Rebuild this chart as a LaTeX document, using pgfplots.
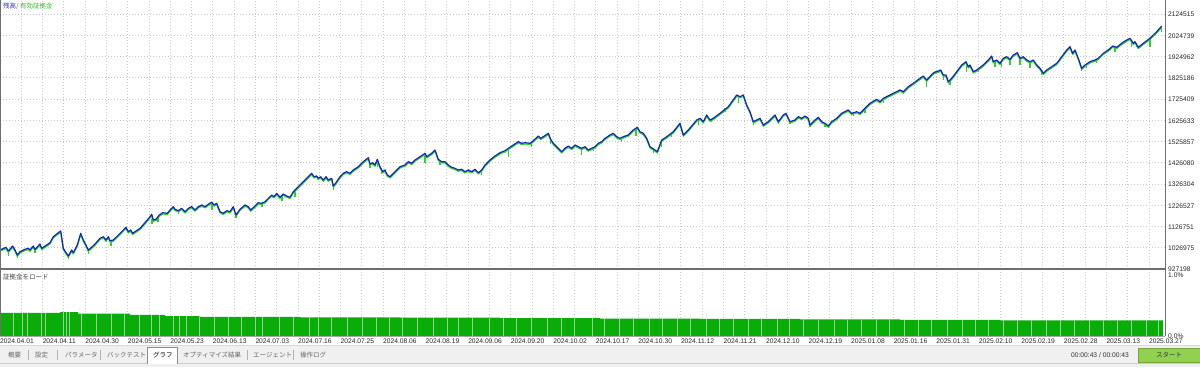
\documentclass[border=0pt]{standalone}
\usepackage{pgfplots}
\pgfplotsset{compat=1.18}
\usepackage{pgfplotstable}
\usepackage{fontspec}
\setmainfont{Liberation Sans}
\newfontfamily\jp{Noto Sans CJK JP}
\definecolor{balblue}{RGB}{22,38,185}
\definecolor{eqgreen}{RGB}{50,205,50}
\definecolor{bargreen}{RGB}{10,172,10}
\definecolor{gapgreen}{RGB}{140,215,140}
\definecolor{gridgray}{RGB}{200,200,200}
\definecolor{framegray}{RGB}{110,110,110}
\definecolor{tabgray}{RGB}{240,240,240}
\definecolor{btngreen}{RGB}{146,208,80}
\definecolor{lblblue}{RGB}{50,50,210}
\definecolor{lblgreen}{RGB}{40,190,40}
\newcommand\tk{\fontsize{6.7}{7.5}\selectfont}
\newcommand\jk{\jp\fontsize{6.5}{7.5}\selectfont}

\pgfplotstableread{
x b
0 1016411
6 1029089
8.3 1011716
12.7 1035193
15 1016411
17.3 992934
20 1008429
25 1019698
28.3 1024393
30 1016411
33.3 1035193
35 1019698
40 1044583
41.7 1024393
46.7 1039888
50 1050687
53.3 1078860
58.3 1097641
60.7 1105624
63.3 1024393
65 1011716
68.3 988239
71.7 1016411
73.3 1003733
77.3 1039888
80.7 1094824
83.3 1063365
86 1039888
88.3 1016411
90 1022515
95 1044583
100 1071347
103.3 1078860
106 1063365
108.3 1078860
110 1060078
113.3 1063365
116.7 1078860
121.7 1102337
126 1122997
128.3 1102337
130.7 1110319
132.7 1094824
135 1102337
140 1118301
145 1144595
150 1172768
151.7 1184037
153.3 1157273
156 1160560
159.3 1180750
162.7 1191549
167.3 1188732
170.7 1207514
173.3 1219722
175 1207514
178.3 1200940
181.7 1212209
185 1196245
188.3 1212209
191.7 1219722
195 1204227
198.3 1219722
201.7 1227704
205 1219722
208.3 1230991
211.7 1241790
214 1227704
216.7 1235686
220 1196245
223.3 1188732
226.7 1200940
230 1196245
233.3 1219722
236 1180750
240 1207514
245 1227704
248.3 1219722
250.7 1204227
255 1223009
258.3 1238503
261.7 1235686
265 1243199
268.3 1259163
271.7 1274658
274 1266676
276.7 1282640
280 1263859
283.3 1279353
286.7 1269963
290 1263859
293.3 1290153
296.7 1306117
300 1321612
306.7 1353071
311.7 1376548
314 1360584
316.7 1363871
318.3 1353071
320.7 1360584
323.3 1345089
326 1360584
328.3 1345089
331.7 1353071
333.3 1316917
336.7 1337107
340 1360584
343.3 1376548
346.7 1384061
350 1376548
353.3 1392043
358.3 1407538
363.3 1431015
368.3 1449796
370 1420215
372.7 1426319
375 1415520
377.3 1442284
380 1407538
382.7 1384061
385 1392043
387.3 1368566
390 1360584
395 1384061
400 1407538
405 1415520
408.3 1431015
411.7 1423502
415 1438997
420 1454492
425 1470456
426.7 1454492
431.7 1470456
435 1485951
438.3 1442284
441.7 1431015
445 1431015
448.3 1415520
451.7 1404721
455 1400025
458.3 1392043
461.7 1395330
465 1384061
468.3 1392043
471.7 1384061
475 1395330
478.3 1379365
481.7 1392043
485 1415520
490 1438997
495 1457779
500 1473273
505 1482664
508.3 1493933
513.3 1509428
518.3 1524923
521.7 1517410
525 1520227
530 1517410
533.3 1529618
538.3 1551687
540.7 1540887
543.3 1548400
548.3 1564364
550.7 1536192
553.3 1517410
558.3 1493933
561.7 1477969
565 1493933
568.3 1504733
571.7 1493933
575 1509428
578.3 1501446
581.7 1493933
585 1501446
588.3 1485951
591.7 1493933
595 1501446
598.3 1517410
601.7 1524923
605 1540887
610 1556382
613.3 1564364
616.7 1548400
620 1540887
623.3 1548400
628.3 1556382
633.3 1579859
637.3 1592537
640 1571877
643.3 1564364
646.7 1540887
650 1501446
655 1485951
657.3 1477969
661.7 1532905
666.7 1548400
673.3 1571877
680 1611318
683.3 1556382
688.3 1579859
696.7 1626813
700 1634795
703.3 1618831
706.7 1650290
710 1626813
713.3 1634795
720 1658272
728.3 1689262
736.7 1744198
740 1736216
743.3 1744198
746.7 1697244
750 1665785
753.3 1618831
756.7 1626813
760 1634795
763.3 1603336
768.3 1618831
775 1650290
778.3 1618831
783.3 1650290
786 1658272
790 1618831
795 1626813
798.3 1642308
801.7 1634795
805 1645595
808.3 1634795
810 1603336
815 1626813
818.3 1639491
821.7 1618831
825 1611318
828.3 1598641
831.7 1618831
836.7 1634795
841.7 1658272
848.3 1673767
851.7 1658272
856.7 1665785
860 1658272
863.3 1673767
870 1705226
876.7 1724008
880 1712739
883.3 1728703
890 1744198
896.7 1759693
900 1767675
903.3 1759693
908.3 1783170
913.3 1799134
920 1822611
923.3 1833411
926.7 1814629
931.7 1840000
934 1850000
938.3 1856888
940.7 1861583
943.3 1838106
946 1838106
948.3 1806647
951.7 1822611
956.7 1853601
961.7 1885060
966 1900555
968.3 1877078
970 1885060
973.3 1853601
976.7 1861583
983.3 1885060
988.3 1908537
991.7 1927319
993.3 1900555
996.7 1908537
1000 1893042
1003.3 1916519
1006.7 1924032
1010 1911824
1013.3 1932014
1017.3 1942813
1020 1916519
1023.3 1924032
1026.7 1908537
1030 1900555
1033.3 1908537
1036.7 1885060
1040 1869565
1043.3 1846088
1046.7 1861583
1051.7 1877078
1056.7 1893042
1061.7 1924032
1066.7 1955491
1070 1970986
1072.7 1939996
1075 1955491
1078.3 1916519
1081.7 1869565
1085 1885060
1090 1900555
1095 1908537
1098.3 1916519
1103.3 1939996
1108.3 1955491
1112.7 1974273
1116.7 1968169
1121.7 1986950
1126.7 2002445
1130 2010427
1133.3 1986950
1135 1994463
1138.3 1968169
1143.3 1986950
1150 2010427
1156.7 2041417
1161.7 2068181
}\baltable

\begin{document}
\begin{tikzpicture}
\path[use as bounding box] (0pt,0pt) rectangle (1200pt,367pt);

% ---------- main panel ----------
\begin{axis}[
  at={(0pt,98pt)}, anchor=south west,
  width=1165pt, height=269pt, scale only axis,
  xmin=0, xmax=1165, ymin=927198, ymax=2190261,
  axis line style={draw=none},
  major tick length=0pt, minor tick length=0pt,
  xtick={0,42.55,...,1150}, xticklabels={}, minor x tick num=1,
  ytick={927198,1026975,1126751,1226527,1326304,1426080,1525857,1625633,1725409,1825186,1924962,2024739,2124515},
  yticklabels={927198,1026975,1126751,1226527,1326304,1426080,1525857,1625633,1725409,1825186,1924962,2024739,2124515},
  yticklabel pos=right,
  yticklabel style={font=\tk, anchor=west, inner sep=0pt, xshift=3pt, yshift=-0.5pt, text=black!85},
  xmajorgrids, xminorgrids, ymajorgrids,
  grid style={gridgray, dash pattern=on 1pt off 2pt, line width=0.7pt},
  minor grid style={gridgray, dash pattern=on 1pt off 2pt, line width=0.7pt},
  major grid style={gridgray, dash pattern=on 1pt off 2pt, line width=0.7pt},
]
\addplot[eqgreen, line width=1.3pt, yshift=-1.2pt, line join=round] table[x=x, y=b] {\baltable};
\addplot[eqgreen, line width=1.1pt, unbounded coords=jump] coordinates {
(8.3,1011716)(8.3,988239)(8.3,nan)
(17.3,992934)(17.3,976500)(17.3,nan)
(35,1019698)(35,1002325)(35,nan)
(68.3,988239)(68.3,974152)(68.3,nan)
(88.3,1016411)(88.3,997629)(88.3,nan)
(111,1060078)(111,1035193)(111,nan)
(152,1161968)(152,1138491)(152,nan)
(158,1171359)(158,1147882)(158,nan)
(178.3,1200940)(178.3,1185445)(178.3,nan)
(212,1237095)(212,1204227)(212,nan)
(236,1180750)(236,1166664)(236,nan)
(262,1235686)(262,1218313)(262,nan)
(282,1274658)(282,1246486)(282,nan)
(295,1298135)(295,1265261)(295,nan)
(333.3,1316917)(333.3,1298135)(333.3,nan)
(370,1420215)(370,1401434)(370,nan)
(377.3,1442284)(377.3,1406129)(377.3,nan)
(381.7,1392043)(381.7,1373262)(381.7,nan)
(425,1470456)(425,1424911)(425,nan)
(440,1434302)(440,1413172)(440,nan)
(481.7,1392043)(481.7,1366218)(481.7,nan)
(508.3,1493933)(508.3,1453083)(508.3,nan)
(531.7,1523514)(531.7,1500037)(531.7,nan)
(550.7,1536192)(550.7,1514123)(550.7,nan)
(581.7,1493933)(581.7,1462474)(581.7,nan)
(593.3,1500037)(593.3,1481256)(593.3,nan)
(621.7,1546991)(621.7,1523514)(621.7,nan)
(636,1589250)(636,1551687)(636,nan)
(653.3,1492994)(653.3,1471865)(653.3,nan)
(661.7,1532905)(661.7,1500037)(661.7,nan)
(671.7,1565773)(671.7,1546991)(671.7,nan)
(698.3,1631508)(698.3,1603336)(698.3,nan)
(711.7,1631508)(711.7,1617422)(711.7,nan)
(725,1680810)(725,1664376)(725,nan)
(738.3,1739503)(738.3,1706635)(738.3,nan)
(753.3,1618831)(753.3,1600988)(753.3,nan)
(763.3,1603336)(763.3,1591597)(763.3,nan)
(778.3,1618831)(778.3,1608031)(778.3,nan)
(790,1618831)(790,1608031)(790,nan)
(810,1603336)(810,1593945)(810,nan)
(825,1611318)(825,1593945)(825,nan)
(853.3,1659681)(853.3,1645595)(853.3,nan)
(865,1678462)(865,1657333)(865,nan)
(883.3,1728703)(883.3,1706635)(883.3,nan)
(903.3,1759693)(903.3,1748893)(903.3,nan)
(926.7,1814629)(926.7,1783170)(926.7,nan)
(943.3,1838106)(943.3,1814629)(943.3,nan)
(950,1814629)(950,1791152)(950,nan)
(966.7,1894451)(966.7,1853601)(966.7,nan)
(978.3,1861583)(978.3,1849844)(978.3,nan)
(995,1903842)(995,1877078)(995,nan)
(1001.7,1903842)(1001.7,1877078)(1001.7,nan)
(1010,1911824)(1010,1885060)(1010,nan)
(1020,1916519)(1020,1885060)(1020,nan)
(1030,1900555)(1030,1869565)(1030,nan)
(1041.7,1859235)(1041.7,1835758)(1041.7,nan)
(1081.7,1869565)(1081.7,1856888)(1081.7,nan)
(1086.7,1889755)(1086.7,1869565)(1086.7,nan)
(1096.7,1913232)(1096.7,1893042)(1096.7,nan)
(1115,1969577)(1115,1946100)(1115,nan)
(1131.7,2002445)(1131.7,1970986)(1131.7,nan)
(1136.7,1988359)(1136.7,1969577)(1136.7,nan)
(1150,2010427)(1150,1970986)(1150,nan)
(1161.7,2068181)(1161.7,2041417)
};
\addplot[balblue, line width=1.2pt, line join=round] table[x=x, y=b] {\baltable};
\end{axis}

% ---------- deposit load panel ----------
\begin{axis}[
  at={(0pt,31pt)}, anchor=south west,
  width=1165pt, height=66pt, scale only axis,
  xmin=0, xmax=1165, ymin=0, ymax=1,
  axis line style={draw=none},
  major tick length=0pt, minor tick length=0pt,
  xtick={0,42.55,...,1150}, minor x tick num=1,
  xticklabels={2024.04.01,2024.04.11,2024.04.30,2024.05.15,2024.05.23,2024.06.13,2024.07.03,2024.07.16,2024.07.25,2024.08.06,2024.08.19,2024.09.06,2024.09.20,2024.10.02,2024.10.17,2024.10.30,2024.11.12,2024.11.21,2024.12.10,2024.12.19,2025.01.08,2025.01.16,2025.01.31,2025.02.10,2025.02.19,2025.02.28,2025.03.13,2025.03.27},
  xticklabel style={font=\tk, anchor=west, inner sep=0pt, yshift=-5pt, text=black!85},
  ytick=\empty,
  xmajorgrids, xminorgrids,
  major grid style={gridgray, dash pattern=on 1pt off 2pt, line width=0.7pt},
  minor grid style={gridgray, dash pattern=on 1pt off 2pt, line width=0.7pt},
]
\addplot[fill=bargreen, draw=none, const plot] coordinates {
(0,0.35)(60,0.36)(78,0.34)(130,0.32)(165,0.30)(200,0.29)(300,0.283)(400,0.278)(500,0.272)(600,0.265)(700,0.258)(800,0.252)(900,0.245)(1000,0.238)(1100,0.235)(1163,0.235)
} \closedcycle;
\addplot[gapgreen, line width=0.7pt, ycomb] coordinates {
(13,0.35)(22,0.35)(27,0.35)(41,0.35)(45,0.35)(63,0.36)(66,0.36)(69,0.36)(81,0.34)(96,0.34)(111,0.34)(124,0.34)(139,0.32)(151,0.32)(159,0.32)(173,0.30)(179,0.30)(186,0.30)(199,0.30)(214,0.29)(228,0.29)(241,0.29)(255,0.29)(262,0.29)(279,0.29)(293,0.29)(309,0.283)(318,0.283)(331,0.283)(347,0.283)(362,0.283)(376,0.283)(389,0.283)(402,0.278)(417,0.278)(433,0.278)(447,0.278)(458,0.278)(472,0.278)(489,0.278)(503,0.272)(516,0.272)(531,0.272)(547,0.272)(561,0.272)(574,0.272)(592,0.272)(604,0.265)(619,0.265)(633,0.265)(649,0.265)(662,0.265)(677,0.265)(690,0.265)(706,0.258)(719,0.258)(733,0.258)(748,0.258)(761,0.258)(777,0.258)(789,0.258)(803,0.252)(818,0.252)(834,0.252)(847,0.252)(861,0.252)(876,0.252)(889,0.252)(904,0.245)(918,0.245)(931,0.245)(947,0.245)(962,0.245)(975,0.245)(988,0.245)(1003,0.238)(1017,0.238)(1031,0.238)(1046,0.238)(1060,0.238)(1074,0.238)(1089,0.238)(1103,0.235)(1117,0.235)(1131,0.235)(1146,0.235)(1158,0.235)
};
\end{axis}

% ---------- frame ----------
\draw[framegray, line width=1pt] (0.5pt,31pt) -- (0.5pt,367pt);
\draw[framegray, line width=0.8pt] (1165pt,31pt) -- (1165pt,367pt);
\draw[framegray, line width=2pt] (0pt,97.5pt) -- (1165pt,97.5pt);
\draw[black!35, line width=0.6pt] (0pt,31pt) -- (1165pt,31pt);

% labels
\node[anchor=west, inner sep=0pt, font=\jk] at (3pt,361pt) {\textcolor{lblblue}{残高}\textcolor{black!60}{ / }\textcolor{lblgreen}{有効証拠金}};
\node[anchor=west, inner sep=0pt, font=\jk, text=black!75] at (3pt,90pt) {証拠金をロード};
\node[anchor=west, inner sep=0pt, font=\tk, text=black!85] at (1168pt,92pt) {1.0\%};
\node[anchor=west, inner sep=0pt, font=\tk, text=black!85] at (1168pt,31pt) {0.0\%};

% ---------- tab bar ----------
\fill[tabgray] (0pt,0pt) rectangle (1200pt,22pt);
\draw[black!15, line width=0.5pt] (0pt,22pt) -- (1200pt,22pt);
\draw[black!20, line width=0.6pt] (0pt,3.5pt) -- (1200pt,3.5pt);
\filldraw[fill=white, draw=black!45, line width=0.6pt] (147pt,3.5pt) -- (147pt,20pt) -- (177pt,20pt) -- (177pt,3.5pt);
\begin{scope}[every node/.style={anchor=west, inner sep=0pt, font=\jk, text=black!60}]
\node at (8pt,12pt) {概要};
\node at (35pt,12pt) {設定};
\node at (65pt,12pt) {パラメータ};
\node at (107pt,12pt) {バックテスト};
\node[text=black] at (153pt,12pt) {グラフ};
\node at (183pt,12pt) {オプティマイズ結果};
\node at (253pt,12pt) {エージェント};
\node at (300pt,12pt) {操作ログ};
\end{scope}
\foreach \sx in {28,57,100,247,293} \draw[black!30, line width=0.6pt] (\sx pt,7pt) -- (\sx pt,17pt);
\node[anchor=center, inner sep=0pt, font=\tk, text=black!80] at (1100pt,12pt) {00:00:43 / 00:00:43};
\filldraw[fill=btngreen, draw=btngreen!80!black, line width=0.5pt] (1138pt,5pt) rectangle (1200pt,19pt);
\node[anchor=center, inner sep=0pt, font=\jk, text=black!80] at (1169pt,12pt) {スタート};
\end{tikzpicture}
\end{document}
